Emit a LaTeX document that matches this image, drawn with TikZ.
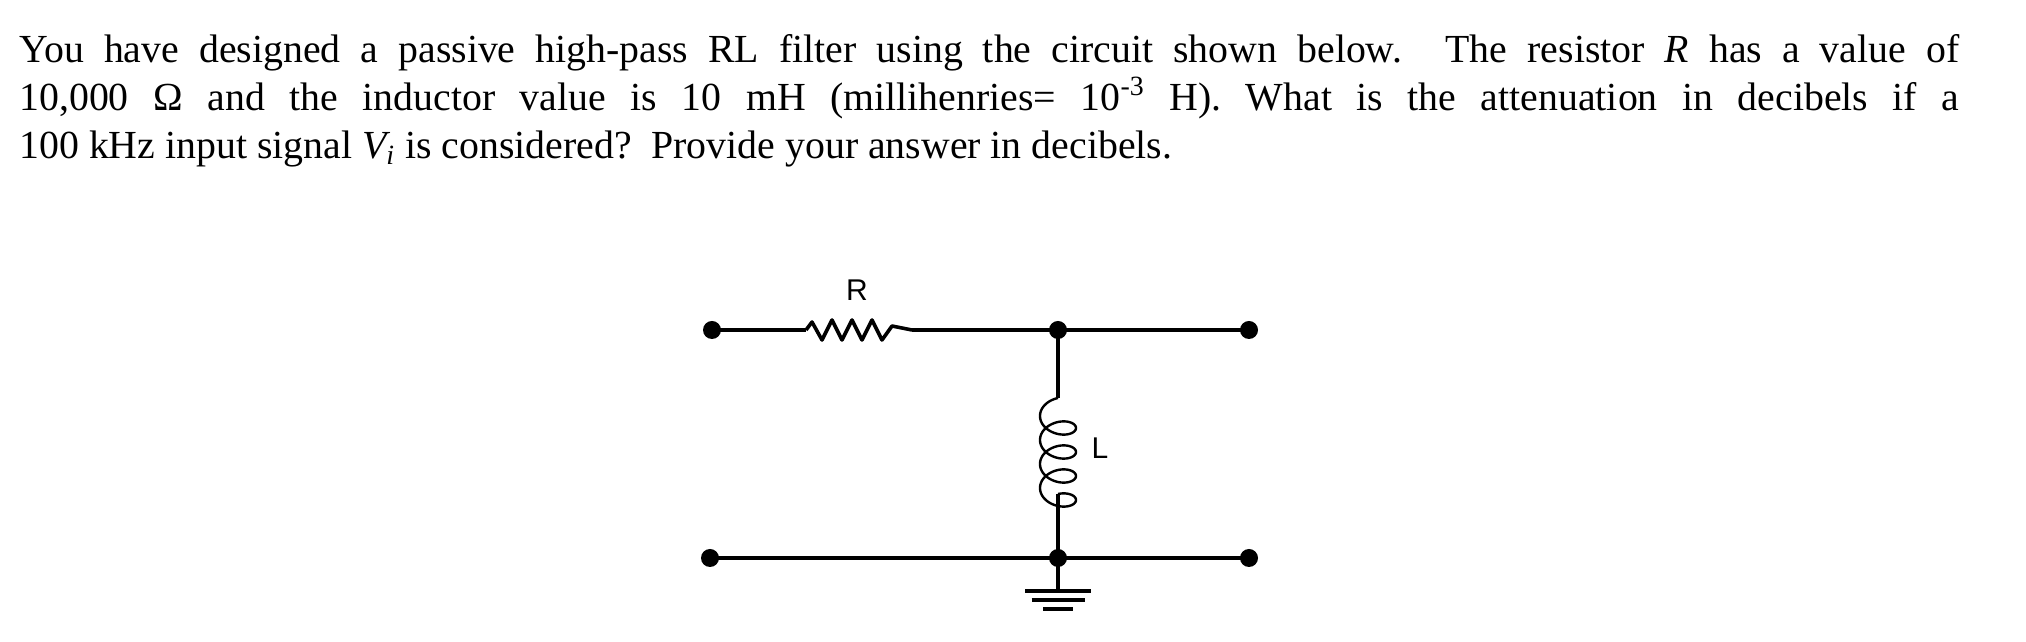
\documentclass[tikz,border=0pt]{standalone}
\usepackage{fontspec}
\setmainfont{Liberation Serif}
\setsansfont{Liberation Sans}
\begin{document}
\begin{tikzpicture}[x=1pt,y=1pt,
  wire/.style={line width=2.4pt},
  term/.style={circle,fill=black,inner sep=0pt,minimum size=9pt},
  lbl/.style={font=\sffamily\fontsize{15}{17}\selectfont,inner sep=0pt}]
\useasboundingbox (0,0) rectangle (1013,321);
\node[anchor=north west,inner sep=0pt,text width=970pt,align=justify,
  font=\fontsize{19.9}{24}\selectfont] (txt) at (9.5,304)
 {You have designed a passive high-pass RL filter using the circuit shown below. The resistor \textit{R} has a value of\break 10,000 Ω and the inductor value is 10 mH (millihenries= 10\textsuperscript{-3} H). What is the attenuation in decibels if a\break 100 kHz input signal \textit{V\textsubscript{i}} is considered?\ \ Provide your answer in decibels.};
\node[term] (a) at (356,156) {};
\node[term] (j) at (529,156) {};
\node[term] (b) at (624.5,156) {};
\node[term] (c) at (355,42) {};
\node[term] (k) at (529,42) {};
\node[term] (d) at (624.5,42) {};
\coordinate (r1) at (403,156);
\coordinate (r2) at (456,156);
\coordinate (l1) at (529,122);
\coordinate (l2) at (529,74);
\coordinate (g) at (529,25.5);
\draw[wire] (a.center) -- (r1);
\draw[line width=1.8pt,line join=round] (r1) -- (406,160) -- (411,151) -- (416,161) -- (421,151) -- (426,161) -- (431,151) -- (436,161) -- (441,151) -- (446,158) -- (r2);
\draw[wire] (r2) -- (j.center) -- (b.center);
\draw[wire] (j.center) -- (l1);
\draw[line width=1.2pt] plot[domain=0:1440,samples=240,smooth] ({529-9*sin(\x)},{122-\x/30+6*(cos(\x)-1)});
\draw[wire] (l2) -- (k.center);
\draw[wire] (c.center) -- (d.center);
\draw[wire] (k.center) -- (g);
\draw[wire] (512.5,25.5) -- (545.5,25.5);
\draw[wire] (515.75,21) -- (542.25,21);
\draw[wire] (521.5,16.5) -- (536.5,16.5);
\node[lbl] (R) at (428.5,176) {R};
\node[lbl] (L) at (550,97) {L};
\end{tikzpicture}
\end{document}
